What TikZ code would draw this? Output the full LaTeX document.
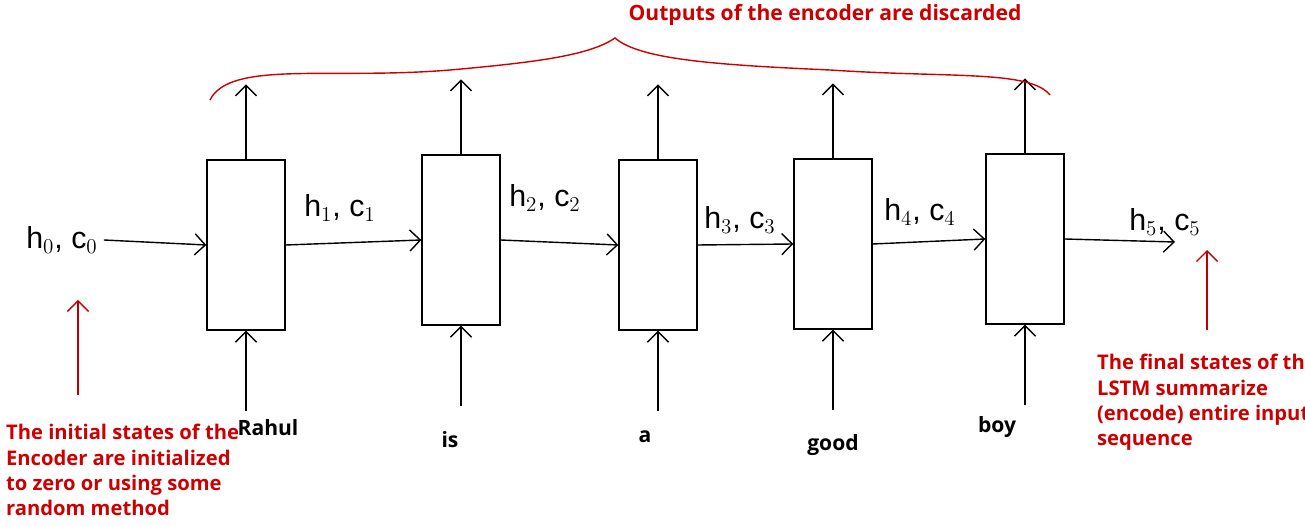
\documentclass[tikz,border=0pt]{standalone}
\usepackage{fontspec}
\setmainfont{Open Sans}
\newfontfamily\hand{Liberation Sans}
\usetikzlibrary{arrows.meta,calc}
\begin{document}
\begin{tikzpicture}[x=0.02cm,y=-0.02cm,
  cell/.style={draw,thick,minimum width=1.56cm,minimum height=3.4cm,inner sep=0},
  ar/.style={thick,->,>={Straight Barb[length=6pt,width=12pt]}},
  rar/.style={ar,red!75!black},
  word/.style={font=\bfseries\fontsize{12}{14}\selectfont},
  st/.style={font=\hand\LARGE},
  note/.style={text=red!80!black,font=\bfseries\fontsize{11.5}{14.5}\selectfont,align=left,anchor=north west,inner sep=1pt}]
\useasboundingbox (0,0) rectangle (1305,526);
\node[cell] (b1) at (246,245) {};
\node[cell] (b2) at (461,240) {};
\node[cell] (b3) at (658,245) {};
\node[cell] (b4) at (833,244) {};
\node[cell] (b5) at (1025,239) {};
\node[st] (s0) at (62,240) {h$_0$, c$_0$};
\node[st] (s1) at (340,208) {h$_1$, c$_1$};
\node[st] (s2) at (545,198) {h$_2$, c$_2$};
\node[st] (s3) at (740,220) {h$_3$, c$_3$};
\node[st] (s4) at (920,212) {h$_4$, c$_4$};
\node[st] (s5) at (1165,222) {h$_5$, c$_5$};
\draw[ar] (s0.east) -- (b1.west);
\draw[ar] (b1.east) -- (b2.west);
\draw[ar] (b2.east) -- (b3.west);
\draw[ar] (b3.east) -- (b4.west);
\draw[ar] (b4.east) -- (b5.west);
\draw[ar] (b5.east) -- (1175,242) coordinate (e5);
\foreach \i in {1,...,5}{
  \coordinate (t\i) at ($(b\i.north)+(0,-75)$);
  \draw[ar] (b\i.north) -- (t\i);
  \coordinate (u\i) at ($(b\i.south)+(0,80)$);
  \draw[ar] (u\i) -- (b\i.south);
}
\node[word] (w1) at (268,428) {Rahul};
\node[word] (w2) at (450,440) {is};
\node[word] (w3) at (645,437) {a};
\node[word] (w4) at (833,445) {good};
\node[word] (w5) at (997,427) {boy};
\draw[red!80!black,thick] (210,100) .. controls (230,60) and (330,80) .. (450,70)
  .. controls (540,62) and (590,55) .. (615,38)
  .. controls (640,60) and (720,65) .. (830,70)
  .. controls (950,78) and (1030,70) .. (1050,95);
\node[text=red!80!black,font=\bfseries\fontsize{12}{14}\selectfont] (top) at (825,15) {Outputs of the encoder are discarded};
\node[note] (n1) at (4,422) {The initial states of the\\Encoder are initialized\\to zero or using some\\random method};
\node[note] (n2) at (1095,352) {The final states of the\\LSTM summarize\\(encode) entire input\\sequence};
\coordinate (r1a) at (78,395); \coordinate (r1b) at (78,300);
\draw[rar] (r1a) -- (r1b);
\coordinate (r2a) at (1207,330); \coordinate (r2b) at (1207,250);
\draw[rar] (r2a) -- (r2b);
\end{tikzpicture}
\end{document}
